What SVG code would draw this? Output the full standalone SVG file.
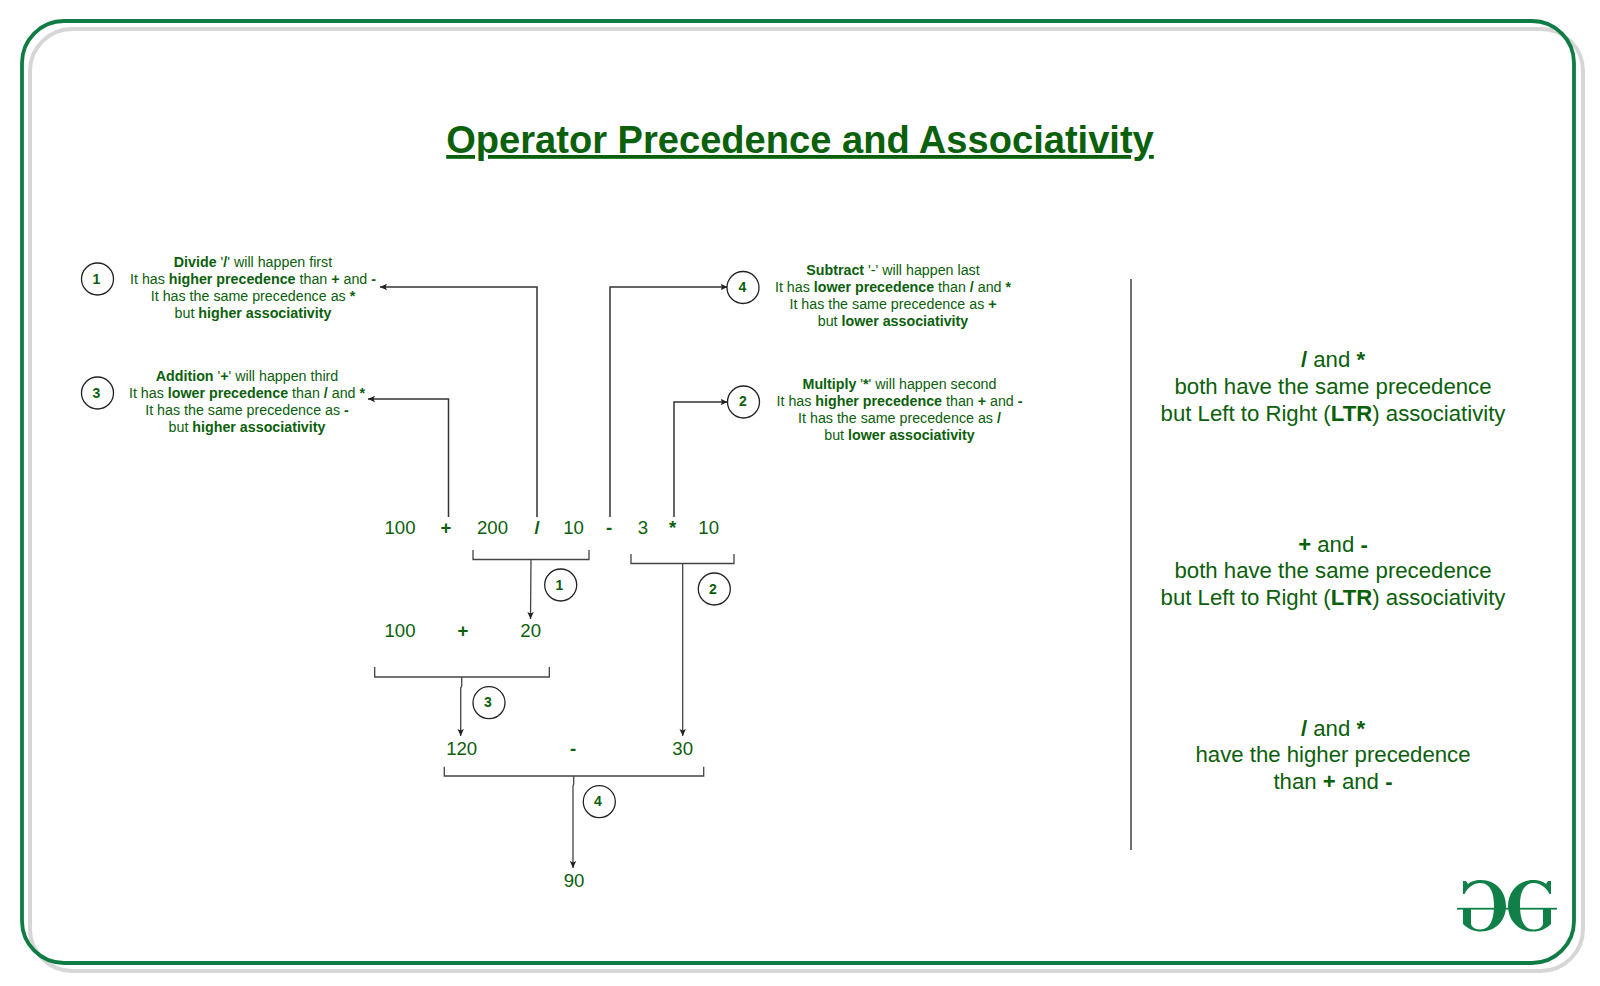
<svg xmlns="http://www.w3.org/2000/svg" width="1600" height="986" viewBox="0 0 1600 986">
<style>
text{font-family:"Liberation Sans",Arial,sans-serif;fill:#0b600b;text-anchor:middle}
.b{font-weight:700}
.t{font-size:38.1px;font-weight:700;text-decoration:underline}
.s{font-size:14.25px}
.n{font-size:18.6px}
.o{font-size:18.6px;font-weight:700}
.r{font-size:22.2px}
.c{font-size:14px;font-weight:700}
circle{fill:#fff;stroke:#222;stroke-width:1.3}
.l{fill:none;stroke:#333;stroke-width:1.5}
.k{fill:none;stroke:#444;stroke-width:1.3}
.g{fill:#108048}
</style>
<defs>
<marker id="a" markerUnits="userSpaceOnUse" markerWidth="8" markerHeight="8" refX="7" refY="4" orient="auto"><path d="M0,0.8 L7,4 L0,7.2 L1.5,4 Z" fill="#222"/></marker>
<path id="gee" d="M1551,881 L1551,894 L1549.500,894 C1546,887 1540,883 1534,883 C1523,883 1520,894 1520,905 C1520,918 1523,929.500 1534,929.500 C1540,929.500 1543,926.500 1543,923 L1543,909 L1551,909 L1551,924 C1546,929 1540,931.500 1533,931.500 C1518,931.500 1508,920 1508,906 C1508,892 1518,880 1533,880 C1539,880 1544,882 1546,884 L1548,881 Z"/>
</defs>
<rect width="1600" height="986" fill="#fff"/>
<g id="frame" fill="none">
<rect x="30" y="29" width="1553" height="942" rx="42" stroke="#d6d6d6" stroke-width="4"/>
<rect x="22" y="21" width="1552" height="942" rx="42" stroke="#0f7c44" stroke-width="3.8"/>
</g>
<g id="title"><text class="t" x="800" y="153">Operator Precedence and Associativity</text></g>
<g id="connectors">
<path class="l" marker-end="url(#a)" d="M537,517 V287 H380"/>
<path class="l" marker-end="url(#a)" d="M448.500,517 V399 H368"/>
<path class="l" marker-end="url(#a)" d="M610,517 V287 H727.500"/>
<path class="l" marker-end="url(#a)" d="M674,517 V402 H727.500"/>
<path class="k" d="M473,550 V559.500 H589 V550"/>
<path class="k" marker-end="url(#a)" d="M531,559.500 L530.500,619"/>
<path class="k" d="M631,554 V563.500 H734 V554"/>
<path class="k" marker-end="url(#a)" d="M682.700,563.500 V736"/>
<path class="k" d="M374.700,667 V677 H549.300 V667"/>
<path class="k" marker-end="url(#a)" d="M461.700,677 V686 L460.700,688 V736"/>
<path class="k" d="M444.300,766.700 V776 H703.700 V766.700"/>
<path class="k" marker-end="url(#a)" d="M573.700,776 V784 L573,786 V868"/>
<path d="M1131,279 V850" fill="none" stroke="#222" stroke-width="1.3"/>
</g>
<g id="label-divide">
<circle cx="97.500" cy="279" r="16"/><text class="c" x="96.500" y="283.500">1</text>
<text class="s" x="253" y="266.500"><tspan class="b">Divide</tspan> '<tspan class="b">/</tspan>' will happen first</text>
<text class="s" x="253" y="283.500">It has <tspan class="b">higher precedence</tspan> than <tspan class="b">+</tspan> and <tspan class="b">-</tspan></text>
<text class="s" x="253" y="300.500">It has the same precedence as <tspan class="b">*</tspan></text>
<text class="s" x="253" y="317.500">but <tspan class="b">higher associativity</tspan></text>
</g>
<g id="label-addition">
<circle cx="97.500" cy="393" r="16"/><text class="c" x="96.500" y="397.500">3</text>
<text class="s" x="247" y="380.500"><tspan class="b">Addition</tspan> '<tspan class="b">+</tspan>' will happen third</text>
<text class="s" x="247" y="397.500">It has <tspan class="b">lower precedence</tspan> than <tspan class="b">/</tspan> and <tspan class="b">*</tspan></text>
<text class="s" x="247" y="414.500">It has the same precedence as <tspan class="b">-</tspan></text>
<text class="s" x="247" y="431.500">but <tspan class="b">higher associativity</tspan></text>
</g>
<g id="label-subtract">
<circle cx="743" cy="287.500" r="16"/><text class="c" x="742.500" y="292">4</text>
<text class="s" x="893" y="274.500"><tspan class="b">Subtract</tspan> '-' will happen last</text>
<text class="s" x="893" y="291.500">It has <tspan class="b">lower precedence</tspan> than <tspan class="b">/</tspan> and <tspan class="b">*</tspan></text>
<text class="s" x="893" y="308.500">It has the same precedence as <tspan class="b">+</tspan></text>
<text class="s" x="893" y="325.500">but <tspan class="b">lower associativity</tspan></text>
</g>
<g id="label-multiply">
<circle cx="743.500" cy="402" r="16"/><text class="c" x="743" y="406">2</text>
<text class="s" x="899.500" y="388.500"><tspan class="b">Multiply</tspan> '<tspan class="b">*</tspan>' will happen second</text>
<text class="s" x="899.500" y="405.500">It has <tspan class="b">higher precedence</tspan> than <tspan class="b">+</tspan> and <tspan class="b">-</tspan></text>
<text class="s" x="899.500" y="422.500">It has the same precedence as <tspan class="b">/</tspan></text>
<text class="s" x="899.500" y="439.500">but <tspan class="b">lower associativity</tspan></text>
</g>
<g id="expression-row1">
<text class="n" x="400" y="534">100</text><text class="o" x="446" y="534">+</text><text class="n" x="492.500" y="534">200</text><text class="o" x="537" y="534">/</text><text class="n" x="573.500" y="534">10</text><text class="o" x="609" y="534">-</text><text class="n" x="643" y="534">3</text><text class="o" x="672.500" y="534">*</text><text class="n" x="708.700" y="534">10</text>
</g>
<g id="expression-row2">
<text class="n" x="400" y="637">100</text><text class="o" x="463" y="637">+</text><text class="n" x="530.700" y="637">20</text>
</g>
<g id="expression-row3">
<text class="n" x="461.700" y="754.500">120</text><text class="o" x="573" y="754.500">-</text><text class="n" x="682.700" y="754.500">30</text>
</g>
<g id="expression-result"><text class="n" x="574" y="887">90</text></g>
<g id="step-1"><circle cx="560.700" cy="585" r="16"/><text class="c" x="559.500" y="589.500">1</text></g>
<g id="step-2"><circle cx="714.300" cy="589" r="16"/><text class="c" x="713" y="593.500">2</text></g>
<g id="step-3"><circle cx="489" cy="702.700" r="16"/><text class="c" x="488" y="707">3</text></g>
<g id="step-4"><circle cx="599.300" cy="801.700" r="16"/><text class="c" x="598" y="806">4</text></g>
<g id="note-1">
<text class="r" x="1333" y="367"><tspan class="b">/</tspan> and <tspan class="b">*</tspan></text>
<text class="r" x="1333" y="394">both have the same precedence</text>
<text class="r" x="1333" y="420.500">but Left to Right (<tspan class="b">LTR</tspan>) associativity</text>
</g>
<g id="note-2">
<text class="r" x="1333" y="551.500"><tspan class="b">+</tspan> and <tspan class="b">-</tspan></text>
<text class="r" x="1333" y="578">both have the same precedence</text>
<text class="r" x="1333" y="604.500">but Left to Right (<tspan class="b">LTR</tspan>) associativity</text>
</g>
<g id="note-3">
<text class="r" x="1333" y="735.500"><tspan class="b">/</tspan> and <tspan class="b">*</tspan></text>
<text class="r" x="1333" y="762">have the higher precedence</text>
<text class="r" x="1333" y="788.500">than <tspan class="b">+</tspan> and <tspan class="b">-</tspan></text>
</g>
<g id="logo" class="g">
<rect x="1457" y="907.800" width="100" height="1.800"/>
<use href="#gee"/>
<use href="#gee" transform="translate(3014 0) scale(-1 1)"/>
</g>
</svg>
